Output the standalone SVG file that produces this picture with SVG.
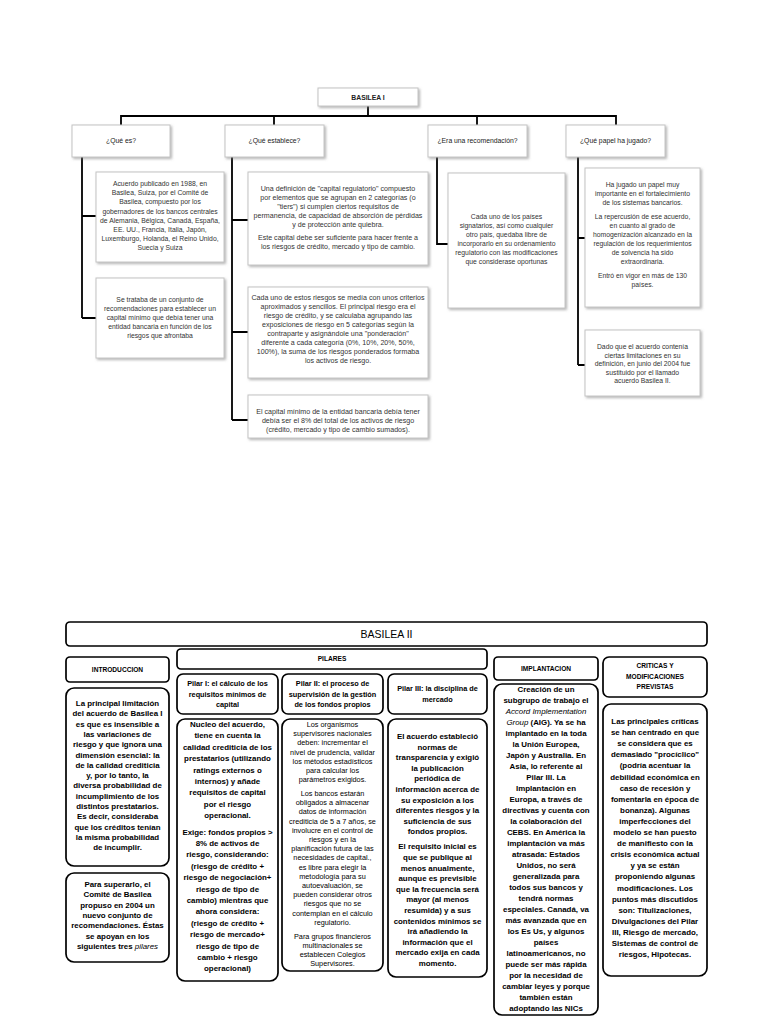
<svg xmlns="http://www.w3.org/2000/svg" width="768" height="1024" viewBox="0 0 768 1024">
<defs>
<filter id="sh" x="-10%" y="-10%" width="130%" height="130%">
<feDropShadow dx="1.5" dy="1.5" stdDeviation="0.8" flood-color="#777" flood-opacity="0.55"/>
</filter>
<style>
.tb{fill:#fff;stroke:#c4c4c4;stroke-width:1;filter:url(#sh)}
.t{font-family:"Liberation Sans",Arial,sans-serif;font-size:6.8px;fill:#333;text-anchor:middle}
.tm{font-size:7.1px}
.th{font-family:"Liberation Sans",Arial,sans-serif;font-size:6.8px;fill:#222;text-anchor:middle}
.cn{fill:none;stroke:#000;stroke-width:1.8}
.bb{fill:#fff;stroke:#000;stroke-width:1.7}
.b{font-family:"Liberation Sans",Arial,sans-serif;font-size:7.9px;font-weight:bold;fill:#000;text-anchor:middle}
.bh{font-family:"Liberation Sans",Arial,sans-serif;font-size:6.6px;font-weight:bold;fill:#000;text-anchor:middle}
.r{font-family:"Liberation Sans",Arial,sans-serif;font-size:7.3px;fill:#000;text-anchor:middle}
.i{font-style:italic;font-weight:normal}
</style>
</defs>
<rect width="768" height="1024" fill="#fff"/>

<g id="connectors">
<path class="cn" d="M368 106V116M121 116H616M121 115V125M274 115V125M477 115V125M616 115V125"/>
<path class="cn" d="M82 157V318M82 216H96M82 318H96"/>
<path class="cn" d="M232 157V420M232 220H248M232 332H248M232 420H248"/>
<path class="cn" d="M437 157V244H448"/>
<path class="cn" d="M578 157V365M578 238H585M578 365H585"/>
</g>

<g id="basilea1">
<rect class="tb" x="318" y="88" width="100" height="18"/>
<text class="th" x="368" y="99.5" font-weight="bold">BASILEA I</text>
</g>
<g id="que-es">
<rect class="tb" x="72" y="125" width="98" height="32"/>
<text class="th" x="121" y="143">¿Qué es?</text>
</g>
<g id="que-establece">
<rect class="tb" x="225" y="125" width="99" height="32"/>
<text class="th" x="274.5" y="143">¿Qué establece?</text>
</g>
<g id="era-recomendacion">
<rect class="tb" x="428" y="125" width="99" height="32"/>
<text class="th" x="477.5" y="143">¿Era una recomendación?</text>
</g>
<g id="que-papel">
<rect class="tb" x="566" y="125" width="99" height="32"/>
<text class="th" x="615.5" y="143">¿Qué papel ha jugado?</text>
</g>

<g id="acuerdo">
<rect class="tb" x="96" y="172" width="128" height="90"/>
<text class="t"><tspan x="160" y="186">Acuerdo publicado en 1988, en</tspan><tspan x="160" y="195.2">Basilea, Suiza, por el Comité de</tspan><tspan x="160" y="204.4">Basilea, compuesto por los</tspan><tspan x="160" y="213.6">gobernadores de los bancos centrales</tspan><tspan x="160" y="222.8">de Alemania, Bélgica, Canadá, España,</tspan><tspan x="160" y="232">EE. UU., Francia, Italia, Japón,</tspan><tspan x="160" y="241.2">Luxemburgo, Holanda, el Reino Unido,</tspan><tspan x="160" y="250.4">Suecia y Suiza</tspan></text>
</g>
<g id="conjunto">
<rect class="tb" x="96" y="278" width="128" height="80"/>
<text class="t"><tspan x="160" y="302">Se trataba de un conjunto de</tspan><tspan x="160" y="311">recomendaciones para establecer un</tspan><tspan x="160" y="320">capital mínimo que debía tener una</tspan><tspan x="160" y="329">entidad bancaria en función de los</tspan><tspan x="160" y="338">riesgos que afrontaba</tspan></text>
</g>

<g id="definicion">
<rect class="tb" x="248" y="172" width="180" height="93"/>
<text class="t tm"><tspan x="338" y="191">Una definición de "capital regulatorio" compuesto</tspan><tspan x="338" y="200">por elementos que se agrupan en 2 categorías (o</tspan><tspan x="338" y="209">"tiers") si cumplen ciertos requisitos de</tspan><tspan x="338" y="218">permanencia, de capacidad de absorción de pérdidas</tspan><tspan x="338" y="227">y de protección ante quiebra.</tspan><tspan x="338" y="240">Este capital debe ser suficiente para hacer frente a</tspan><tspan x="338" y="249">los riesgos de crédito, mercado y tipo de cambio.</tspan></text>
</g>
<g id="riesgos">
<rect class="tb" x="248" y="287" width="180" height="91"/>
<text class="t tm"><tspan x="338" y="300">Cada uno de estos riesgos se medía con unos criterios</tspan><tspan x="338" y="309">aproximados y sencillos. El principal riesgo era el</tspan><tspan x="338" y="318">riesgo de crédito, y se calculaba agrupando las</tspan><tspan x="338" y="327">exposiciones de riesgo en 5 categorías según la</tspan><tspan x="338" y="336">contraparte y asignándole una "ponderación"</tspan><tspan x="338" y="345">diferente a cada categoría (0%, 10%, 20%, 50%,</tspan><tspan x="338" y="354">100%), la suma de los riesgos ponderados formaba</tspan><tspan x="338" y="363">los activos de riesgo.</tspan></text>
</g>
<g id="capital-minimo">
<rect class="tb" x="248" y="395" width="180" height="43"/>
<text class="t tm"><tspan x="338" y="414">El capital mínimo de la entidad bancaria debía tener</tspan><tspan x="338" y="423">debía ser el 8% del total de los activos de riesgo</tspan><tspan x="338" y="432">(crédito, mercado y tipo de cambio sumados).</tspan></text>
</g>

<g id="paises">
<rect class="tb" x="448" y="173" width="117" height="135"/>
<text class="t"><tspan x="506.5" y="219">Cada uno de los países</tspan><tspan x="506.5" y="228">signatarios, así como cualquier</tspan><tspan x="506.5" y="237">otro país, quedaba libre de</tspan><tspan x="506.5" y="246">incorporarlo en su ordenamiento</tspan><tspan x="506.5" y="255">regulatorio con las modificaciones</tspan><tspan x="506.5" y="264">que considerase oportunas</tspan></text>
</g>

<g id="ha-jugado">
<rect class="tb" x="585" y="168" width="115" height="139"/>
<text class="t"><tspan x="642.5" y="187">Ha jugado un papel muy</tspan><tspan x="642.5" y="196">importante en el fortalecimiento</tspan><tspan x="642.5" y="205">de los sistemas bancarios.</tspan><tspan x="642.5" y="219">La repercusión de ese acuerdo,</tspan><tspan x="642.5" y="228">en cuanto al grado de</tspan><tspan x="642.5" y="237">homogenización alcanzado en la</tspan><tspan x="642.5" y="246">regulación de los requerimientos</tspan><tspan x="642.5" y="255">de solvencia ha sido</tspan><tspan x="642.5" y="264">extraordinaria.</tspan><tspan x="642.5" y="278">Entró en vigor en más de 130</tspan><tspan x="642.5" y="287">países.</tspan></text>
</g>
<g id="dado-que">
<rect class="tb" x="585" y="330" width="115" height="66"/>
<text class="t"><tspan x="642.5" y="349">Dado que el acuerdo contenía</tspan><tspan x="642.5" y="357.5">ciertas limitaciones en su</tspan><tspan x="642.5" y="366">definición, en junio del 2004 fue</tspan><tspan x="642.5" y="374.5">sustituido por el llamado</tspan><tspan x="642.5" y="383">acuerdo Basilea II.</tspan></text>
</g>

<g id="basilea2">
<rect class="bb" x="66" y="622" width="641" height="24" rx="4"/>
<text x="386.5" y="638" style="font-family:'Liberation Sans',Arial,sans-serif;font-size:10.5px;text-anchor:middle;fill:#000">BASILEA II</text>
</g>
<g id="pilares">
<rect class="bb" x="177" y="649" width="310" height="20" rx="4"/>
<text class="bh" x="332" y="661">PILARES</text>
</g>
<g id="introduccion">
<rect class="bb" x="66" y="657" width="103" height="25" rx="4"/>
<text class="bh" x="117.5" y="672">INTRODUCCION</text>
</g>
<g id="intro-limitacion">
<rect class="bb" x="66" y="688" width="103" height="178" rx="8"/>
<text class="b"><tspan x="117.5" y="706">La principal limitación</tspan><tspan x="117.5" y="716.3">del acuerdo de Basilea I</tspan><tspan x="117.5" y="726.6">es que es insensible a</tspan><tspan x="117.5" y="736.9">las variaciones de</tspan><tspan x="117.5" y="747.2">riesgo y que ignora una</tspan><tspan x="117.5" y="757.5">dimensión esencial: la</tspan><tspan x="117.5" y="767.8">de la calidad crediticia</tspan><tspan x="117.5" y="778.1">y, por lo tanto, la</tspan><tspan x="117.5" y="788.4">diversa probabilidad de</tspan><tspan x="117.5" y="798.7">incumplimiento de los</tspan><tspan x="117.5" y="809">distintos prestatarios.</tspan><tspan x="117.5" y="819.3">Es decir, consideraba</tspan><tspan x="117.5" y="829.6">que los créditos tenían</tspan><tspan x="117.5" y="839.9">la misma probabilidad</tspan><tspan x="117.5" y="850.2">de incumplir.</tspan></text>
</g>
<g id="intro-superar">
<rect class="bb" x="66" y="873" width="103" height="89" rx="8"/>
<text class="b"><tspan x="117.5" y="887">Para superarlo, el</tspan><tspan x="117.5" y="897.3">Comité de Basilea</tspan><tspan x="117.5" y="907.6">propuso en 2004 un</tspan><tspan x="117.5" y="917.9">nuevo conjunto de</tspan><tspan x="117.5" y="928.2">recomendaciones. Éstas</tspan><tspan x="117.5" y="938.5">se apoyan en los</tspan><tspan x="117.5" y="948.8">siguientes tres <tspan class="i">pilares</tspan></tspan></text>
</g>

<g id="pilar1-head">
<rect class="bb" x="177" y="674" width="101" height="40" rx="6"/>
<text class="b" style="font-size:7.3px"><tspan x="227.5" y="686">Pilar I: el cálculo de los</tspan><tspan x="227.5" y="696.5">requisitos mínimos de</tspan><tspan x="227.5" y="707">capital</tspan></text>
</g>
<g id="pilar1-body">
<rect class="bb" x="177" y="719" width="101" height="262" rx="8"/>
<text class="b"><tspan x="227.5" y="727">Nucleo del acuerdo,</tspan><tspan x="227.5" y="738.4">tiene en cuenta la</tspan><tspan x="227.5" y="749.8">calidad crediticia de los</tspan><tspan x="227.5" y="761.2">prestatarios (utilizando</tspan><tspan x="227.5" y="772.6">ratings externos o</tspan><tspan x="227.5" y="784">internos) y añade</tspan><tspan x="227.5" y="795.4">requisitos de capital</tspan><tspan x="227.5" y="806.8">por el riesgo</tspan><tspan x="227.5" y="818.2">operacional.</tspan><tspan x="227.5" y="834.6">Exige: fondos propios &gt;</tspan><tspan x="227.5" y="846">8% de activos de</tspan><tspan x="227.5" y="857.4">riesgo, considerando:</tspan><tspan x="227.5" y="868.8">(riesgo de crédito +</tspan><tspan x="227.5" y="880.2">riesgo de negociación+</tspan><tspan x="227.5" y="891.6">riesgo de tipo de</tspan><tspan x="227.5" y="903">cambio) mientras que</tspan><tspan x="227.5" y="914.4">ahora considera:</tspan><tspan x="227.5" y="925.8">(riesgo de crédito +</tspan><tspan x="227.5" y="937.2">riesgo de mercado+</tspan><tspan x="227.5" y="948.6">riesgo de tipo de</tspan><tspan x="227.5" y="960">cambio + riesgo</tspan><tspan x="227.5" y="971.4">operacional)</tspan></text>
</g>

<g id="pilar2-head">
<rect class="bb" x="282" y="674" width="101" height="40" rx="6"/>
<text class="b" style="font-size:7.3px"><tspan x="332.5" y="686">Pilar II: el proceso de</tspan><tspan x="332.5" y="696.5">supervisión de la gestión</tspan><tspan x="332.5" y="707">de los fondos propios</tspan></text>
</g>
<g id="pilar2-body">
<rect class="bb" x="282" y="719" width="101" height="252" rx="8"/>
<text class="r"><tspan x="332.5" y="727">Los organismos</tspan><tspan x="332.5" y="736.2">supervisores nacionales</tspan><tspan x="332.5" y="745.4">deben: incrementar el</tspan><tspan x="332.5" y="754.6">nivel de prudencia, validar</tspan><tspan x="332.5" y="763.8">los métodos estadísticos</tspan><tspan x="332.5" y="773">para calcular los</tspan><tspan x="332.5" y="782.2">parámetros exigidos.</tspan><tspan x="332.5" y="796">Los bancos estarán</tspan><tspan x="332.5" y="805.2">obligados a almacenar</tspan><tspan x="332.5" y="814.4">datos de información</tspan><tspan x="332.5" y="823.6">crediticia de 5 a 7 años, se</tspan><tspan x="332.5" y="832.8">involucre en el control de</tspan><tspan x="332.5" y="842">riesgos y en la</tspan><tspan x="332.5" y="851.2">planificación futura de las</tspan><tspan x="332.5" y="860.4">necesidades de capital.,</tspan><tspan x="332.5" y="869.6">es libre para elegir la</tspan><tspan x="332.5" y="878.8">metodología para su</tspan><tspan x="332.5" y="888">autoevaluación, se</tspan><tspan x="332.5" y="897.2">pueden considerar otros</tspan><tspan x="332.5" y="906.4">riesgos que no se</tspan><tspan x="332.5" y="915.6">contemplan en el cálculo</tspan><tspan x="332.5" y="924.8">regulatorio.</tspan><tspan x="332.5" y="938.6">Para grupos financieros</tspan><tspan x="332.5" y="947.8">multinacionales se</tspan><tspan x="332.5" y="957">establecen Colegios</tspan><tspan x="332.5" y="966.2">Supervisores.</tspan></text>
</g>

<g id="pilar3-head">
<rect class="bb" x="388" y="674" width="99" height="40" rx="6"/>
<text class="b" style="font-size:7.3px"><tspan x="437.5" y="691">Pilar III: la disciplina de</tspan><tspan x="437.5" y="701.5">mercado</tspan></text>
</g>
<g id="pilar3-body">
<rect class="bb" x="388" y="719" width="99" height="258" rx="8"/>
<text class="b"><tspan x="437.5" y="739">El acuerdo estableció</tspan><tspan x="437.5" y="749.6">normas de</tspan><tspan x="437.5" y="760.2">transparencia y exigió</tspan><tspan x="437.5" y="770.8">la publicación</tspan><tspan x="437.5" y="781.4">periódica de</tspan><tspan x="437.5" y="792">información acerca de</tspan><tspan x="437.5" y="802.6">su exposición a los</tspan><tspan x="437.5" y="813.2">diferentes riesgos y la</tspan><tspan x="437.5" y="823.8">suficiencia de sus</tspan><tspan x="437.5" y="834.4">fondos propios.</tspan><tspan x="437.5" y="849.4">El requisito inicial es</tspan><tspan x="437.5" y="860">que se publique al</tspan><tspan x="437.5" y="870.6">menos anualmente,</tspan><tspan x="437.5" y="881.2">aunque es previsible</tspan><tspan x="437.5" y="891.8">que la frecuencia será</tspan><tspan x="437.5" y="902.4">mayor (al menos</tspan><tspan x="437.5" y="913">resumida) y a sus</tspan><tspan x="437.5" y="923.6">contenidos mínimos se</tspan><tspan x="437.5" y="934.2">irá añadiendo la</tspan><tspan x="437.5" y="944.8">información que el</tspan><tspan x="437.5" y="955.4">mercado exija en cada</tspan><tspan x="437.5" y="966">momento.</tspan></text>
</g>

<g id="implantacion">
<rect class="bb" x="494" y="657" width="104" height="23" rx="4"/>
<text class="bh" x="546" y="671">IMPLANTACION</text>
</g>
<g id="implantacion-body">
<rect class="bb" x="494" y="684" width="104" height="331" rx="8"/>
<text class="b"><tspan x="546" y="692">Creación de un</tspan><tspan x="546" y="703">subgrupo de trabajo el</tspan><tspan x="546" y="714" class="i">Accord Implementation</tspan><tspan x="546" y="725"><tspan class="i">Group</tspan> (AIG). Ya se ha</tspan><tspan x="546" y="736">implantado en la toda</tspan><tspan x="546" y="747">la Unión Europea,</tspan><tspan x="546" y="758">Japón y Australia. En</tspan><tspan x="546" y="769">Asia, lo referente al</tspan><tspan x="546" y="780">Pilar III. La</tspan><tspan x="546" y="791">Implantación en</tspan><tspan x="546" y="802">Europa, a través de</tspan><tspan x="546" y="813">directivas y cuenta con</tspan><tspan x="546" y="824">la colaboración del</tspan><tspan x="546" y="835">CEBS. En América la</tspan><tspan x="546" y="846">implantación va más</tspan><tspan x="546" y="857">atrasada: Estados</tspan><tspan x="546" y="868">Unidos, no será</tspan><tspan x="546" y="879">generalizada para</tspan><tspan x="546" y="890">todos sus bancos y</tspan><tspan x="546" y="901">tendrá normas</tspan><tspan x="546" y="912">especiales. Canadá, va</tspan><tspan x="546" y="923">más avanzada que en</tspan><tspan x="546" y="934">los Es Us, y algunos</tspan><tspan x="546" y="945">países</tspan><tspan x="546" y="956">latinoamericanos, no</tspan><tspan x="546" y="967">puede ser más rápida</tspan><tspan x="546" y="978">por la necesidad de</tspan><tspan x="546" y="989">cambiar leyes y porque</tspan><tspan x="546" y="1000">también están</tspan><tspan x="546" y="1011">adoptando las NICs</tspan></text>
</g>

<g id="criticas">
<rect class="bb" x="603" y="657" width="104" height="40" rx="6"/>
<text class="bh"><tspan x="655" y="668">CRITICAS Y</tspan><tspan x="655" y="678.5">MODIFICACIONES</tspan><tspan x="655" y="689">PREVISTAS</tspan></text>
</g>
<g id="criticas-body">
<rect class="bb" x="603" y="704" width="104" height="272" rx="8"/>
<text class="b"><tspan x="655" y="724">Las principales críticas</tspan><tspan x="655" y="735.1">se han centrado en que</tspan><tspan x="655" y="746.2">se considera que es</tspan><tspan x="655" y="757.3">demasiado "procíclico"</tspan><tspan x="655" y="768.4">(podría acentuar la</tspan><tspan x="655" y="779.5">debilidad económica en</tspan><tspan x="655" y="790.6">caso de recesión y</tspan><tspan x="655" y="801.7">fomentarla en época de</tspan><tspan x="655" y="812.8">bonanza). Algunas</tspan><tspan x="655" y="823.9">imperfecciones del</tspan><tspan x="655" y="835">modelo se han puesto</tspan><tspan x="655" y="846.1">de manifiesto con la</tspan><tspan x="655" y="857.2">crisis económica actual</tspan><tspan x="655" y="868.3">y ya se están</tspan><tspan x="655" y="879.4">proponiendo algunas</tspan><tspan x="655" y="890.5">modificaciones. Los</tspan><tspan x="655" y="901.6">puntos más discutidos</tspan><tspan x="655" y="912.7">son: Titulizaciones,</tspan><tspan x="655" y="923.8">Divulgaciones del Pilar</tspan><tspan x="655" y="934.9">III, Riesgo de mercado,</tspan><tspan x="655" y="946">Sistemas de control de</tspan><tspan x="655" y="957.1">riesgos, Hipotecas.</tspan></text>
</g>
</svg>
